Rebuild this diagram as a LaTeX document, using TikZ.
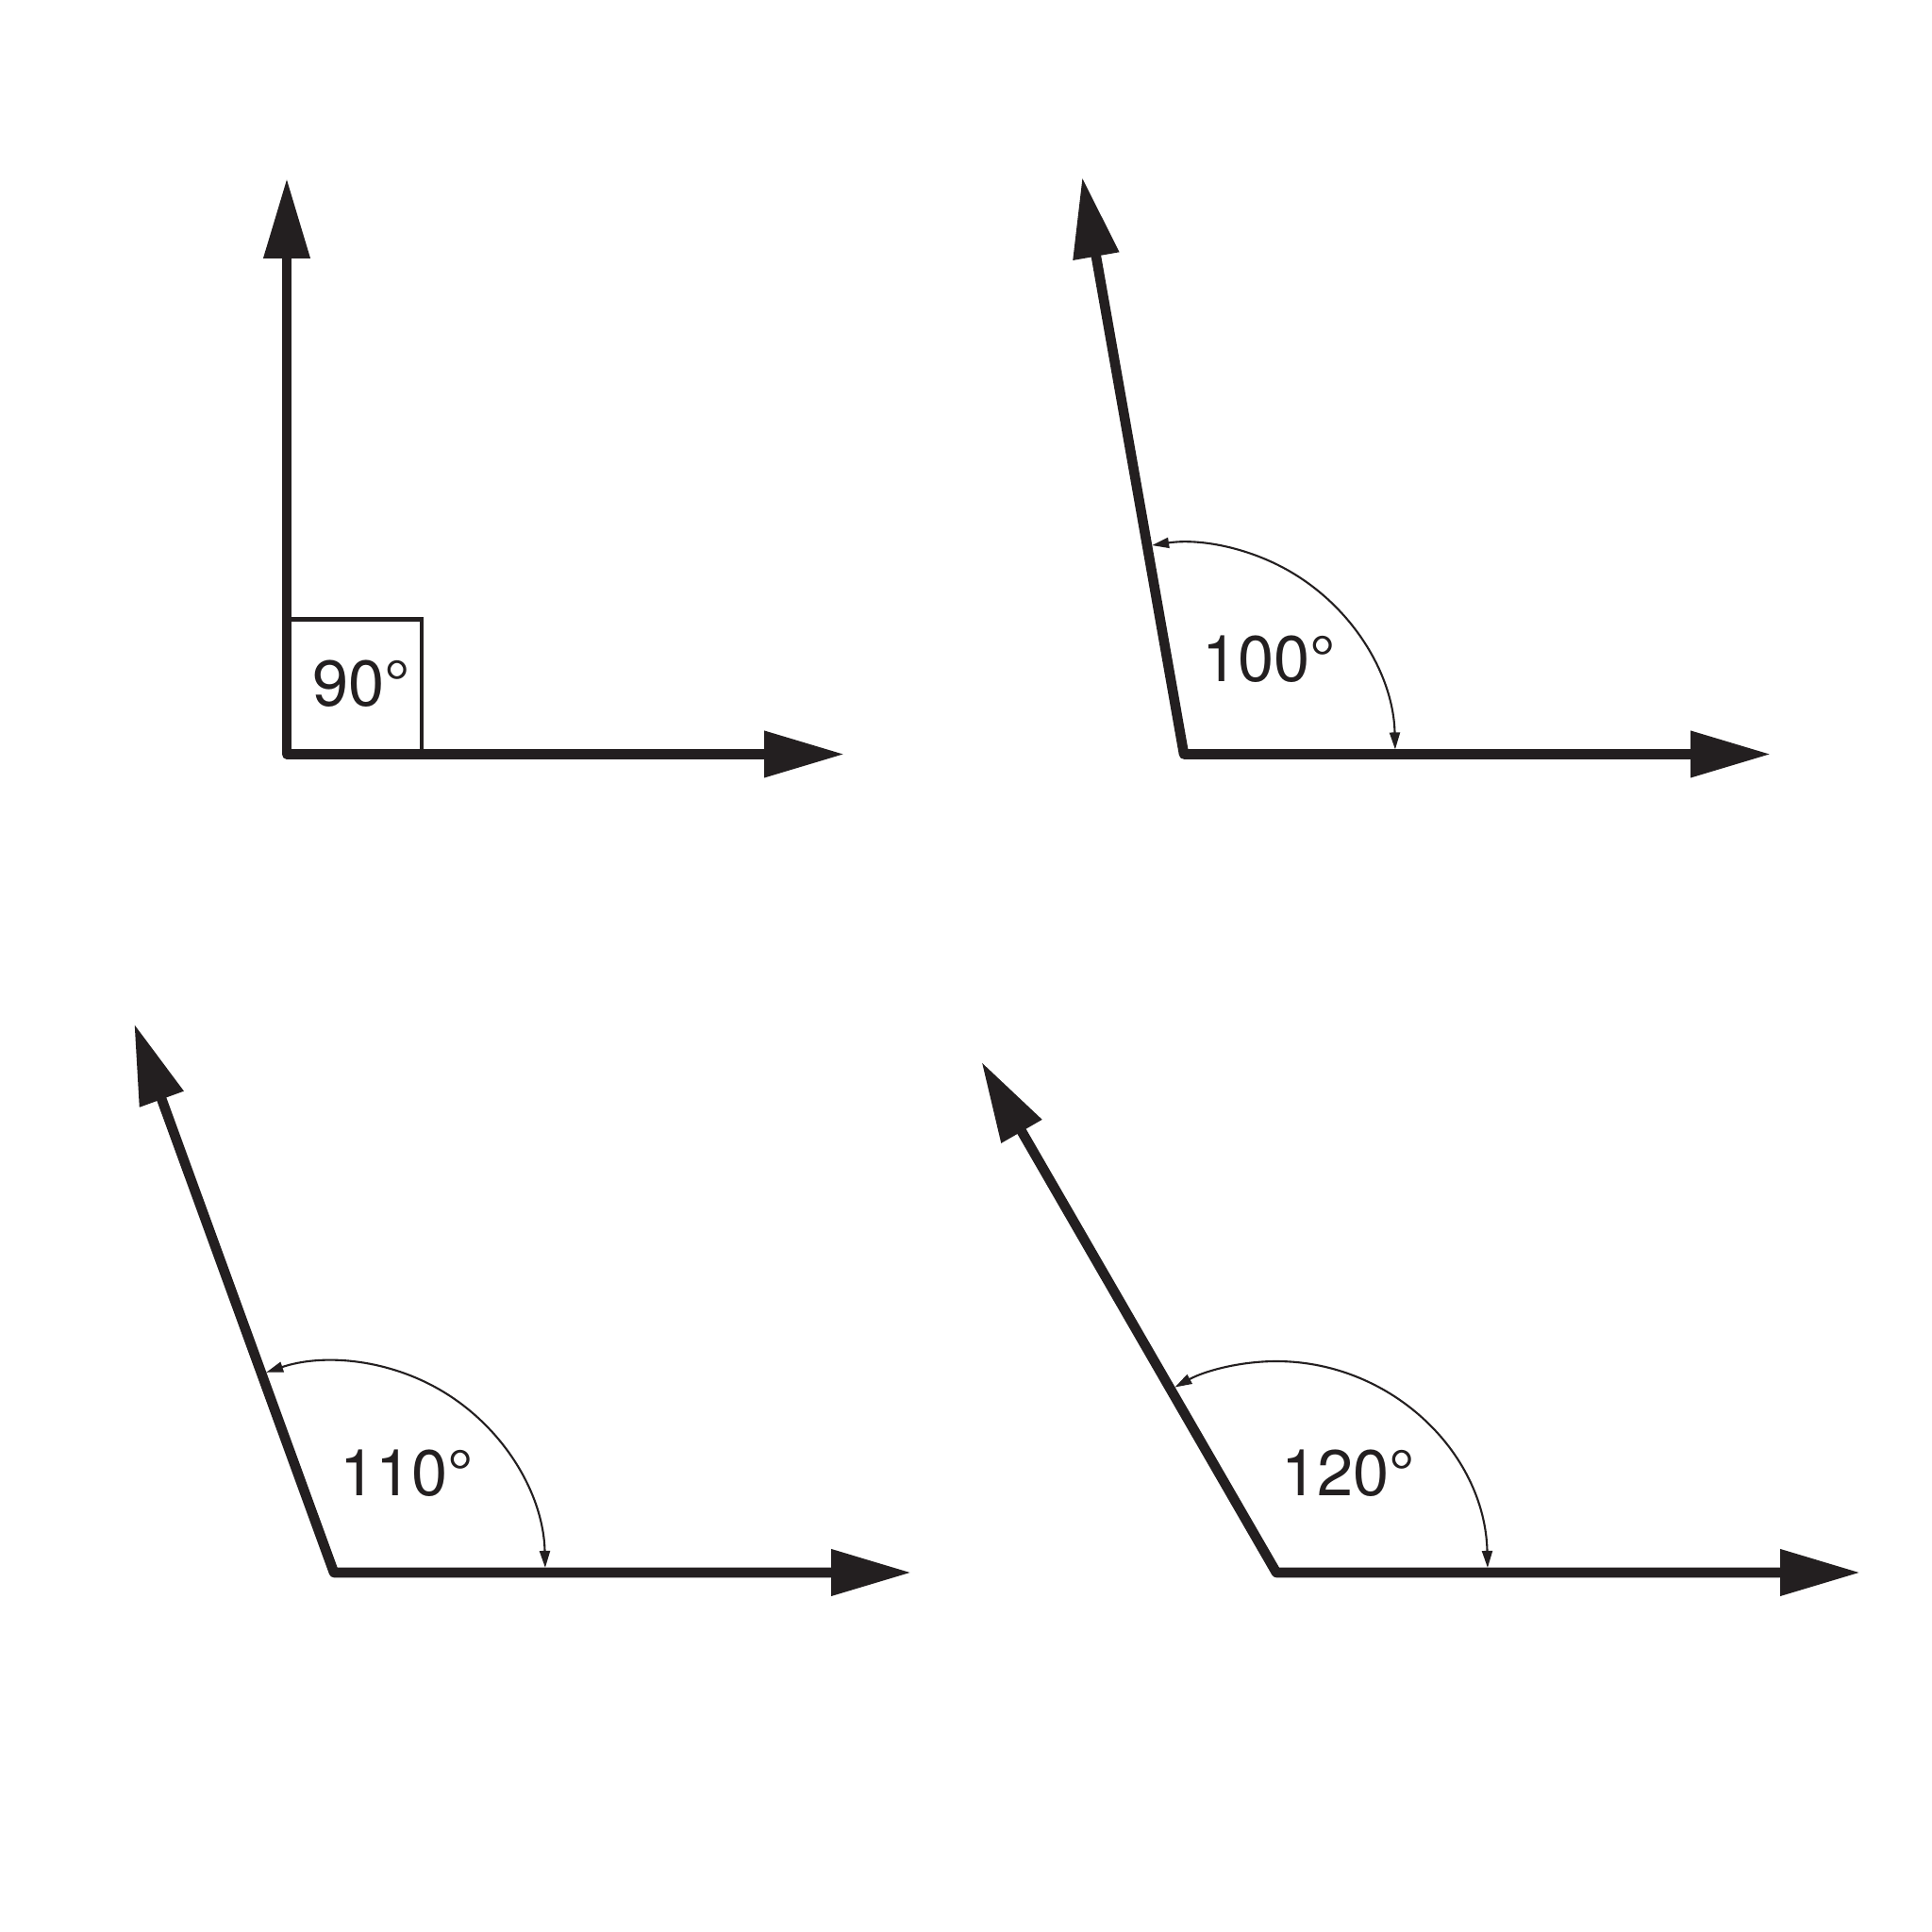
\documentclass[tikz,border=0pt]{standalone}
\usepackage{fontspec}
\setmainfont{TeX Gyre Heros}
\usetikzlibrary{arrows.meta,calc}
\definecolor{ink}{RGB}{35,31,32}
\begin{document}
\begin{tikzpicture}[
  ray/.style={ink, line width=3pt, line join=round, line cap=round,
    {Triangle[length=0.85cm, width=0.47cm]}-{Triangle[length=0.85cm, width=0.47cm]}},
  angarc/.style={ink, line width=0.6pt,
    {Triangle[length=0.18cm, width=0.11cm]}-{Triangle[length=0.18cm, width=0.11cm]}},
  thinbox/.style={ink, line width=1.15pt},
  deg/.style={ink, inner sep=0pt, font=\fontsize{19.5}{23}\selectfont}]
  \useasboundingbox (0,0) rectangle (20.48,20.48);

  \coordinate (o1) at (3.04,12.485);
  \coordinate (a1) at (3.04,18.59);
  \coordinate (h1) at (8.95,12.485);

  \coordinate (o2) at (12.55,12.485);
  \coordinate (a2) at ($(o2)+(100:6.21)$);
  \coordinate (h2) at (18.77,12.485);

  \coordinate (o3) at (3.54,3.81);
  \coordinate (a3) at ($(o3)+(110:6.19)$);
  \coordinate (h3) at (9.66,3.81);

  \coordinate (o4) at (13.53,3.81);
  \coordinate (a4) at ($(o4)+(120:6.25)$);
  \coordinate (h4) at (19.72,3.81);

  \draw[thinbox] (o1) rectangle ++(1.43,1.43);
  \draw[ray] (a1) -- (o1) -- (h1);
  \node[deg] (l1) at (3.83,13.235) {90°};

  \draw[ray] (a2) -- (o2) -- (h2);
  \draw[angarc] ([shift={(1.3:2.24)}]o2) arc[start angle=1.3, end angle=98.7, radius=2.24];
  \node[deg] (l2) at (13.45,13.49) {100°};

  \draw[ray] (a3) -- (o3) -- (h3);
  \draw[angarc] ([shift={(1.3:2.24)}]o3) arc[start angle=1.3, end angle=108.7, radius=2.24];
  \node[deg] (l3) at (4.31,4.86) {110°};

  \draw[ray] (a4) -- (o4) -- (h4);
  \draw[angarc] ([shift={(1.3:2.24)}]o4) arc[start angle=1.3, end angle=118.7, radius=2.24];
  \node[deg] (l4) at (14.29,4.86) {120°};
\end{tikzpicture}
\end{document}
